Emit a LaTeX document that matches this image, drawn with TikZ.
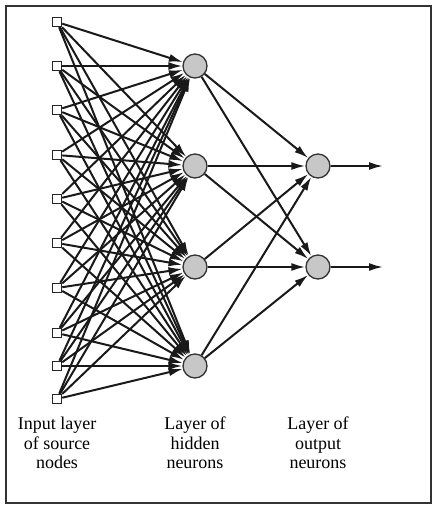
\documentclass[tikz,border=0pt]{standalone}
\usepackage{fontspec}
\setmainfont{Liberation Serif}
\usetikzlibrary{arrows.meta}

\tikzset{
  source/.style={draw=black!85,fill=white,line width=0.65pt,minimum size=4.6pt,inner sep=0pt},
  neuron/.style={circle,draw=black!80,fill=black!22,line width=0.65pt,minimum size=12pt,inner sep=0pt},
  synapse/.style={-{Latex[length=7pt,width=4pt]},line width=1pt,black!90},
  layerlabel/.style={align=center,font=\fontsize{9}{9.75}\selectfont}
}

\begin{document}
\begin{tikzpicture}[x=0.5pt,y=-0.5pt]
        \useasboundingbox (0,0) rectangle (439,510);
        \draw[line width=0.7pt,black!80] (6,6) rectangle (431,503); % frame
        % input layer (squares)
        \foreach \y [count=\i] in {22,66,110,155,199,243,288,333,366,399}
            \node[source] (in\i) at (57,\y) {};
        % hidden layer
        \foreach \y [count=\j] in {66,166,267,366}
            \node[neuron] (hid\j) at (195,\y) {};
        % output layer, with a free end for each output arrow
        \foreach \y [count=\k] in {166,267} {
            \node[neuron] (out\k) at (318,\y) {};
            \coordinate (res\k) at (383,\y);
        }
        % every input to every hidden neuron
        \foreach \i in {1,...,10}
            \foreach \j in {1,...,4}
                \draw[synapse] (in\i) -- (hid\j);
        % every hidden neuron to every output neuron
        \foreach \j in {1,...,4}
            \foreach \k in {1,2}
                \draw[synapse] (hid\j) -- (out\k);
        \foreach \k in {1,2}
            \draw[synapse] (out\k) -- (res\k);
        % labels under the layers
        \node[layerlabel] (lin) at (57,443) {Input layer\\of source\\nodes};
        \node[layerlabel] (lhid) at (195,443) {Layer of\\hidden\\neurons};
        \node[layerlabel] (lout) at (318,443) {Layer of\\output\\neurons};
    \end{tikzpicture}
\end{document}
